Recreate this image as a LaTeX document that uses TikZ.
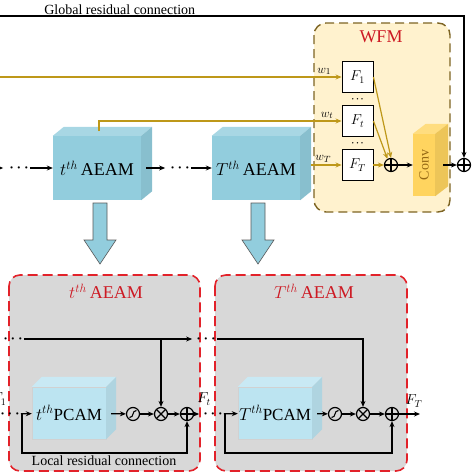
\documentclass[tikz,border=0pt]{standalone}
\usepackage{fontspec}
\setmainfont{Liberation Serif}
\usetikzlibrary{positioning,arrows.meta}

\definecolor{aeamblue}{RGB}{146,205,221}
\definecolor{pcamblue}{RGB}{188,228,241}
\definecolor{panelgray}{RGB}{216,216,216}
\definecolor{panelred}{RGB}{226,34,42}
\definecolor{titlered}{RGB}{205,25,35}
\definecolor{wfmfill}{RGB}{255,242,206}
\definecolor{wfmline}{RGB}{125,100,35}
\definecolor{gold}{RGB}{190,152,25}
\definecolor{convyellow}{RGB}{255,212,95}
\definecolor{convtext}{RGB}{150,105,20}

\begin{document}
\begin{tikzpicture}[x=1pt,y=-1pt,>={Stealth[length=6pt,width=5pt]},
        every node/.style={font=\fontsize{14}{16}\selectfont},
        blackline/.style={line width=1.3pt},
        goldline/.style={draw=gold,line width=1.2pt},
        panel/.style={draw=panelred,fill=panelgray,line width=1.6pt,dash pattern=on 10pt off 5pt,rounded corners=11pt},
        wfm/.style={draw=wfmline,fill=wfmfill,line width=1.4pt,dash pattern=on 9pt off 5pt,rounded corners=12pt},
        paneltitle/.style={text=titlered,font=\fontsize{18}{20}\selectfont},
        aeam/.style={fill=aeamblue,minimum width=88pt,minimum height=64pt,inner sep=0pt,font=\fontsize{18}{20}\selectfont},
        pcam/.style={fill=pcamblue,draw=black!18,minimum width=74pt,minimum height=52pt,inner sep=0pt,font=\fontsize{17}{20}\selectfont},
        conv/.style={fill=convyellow,minimum width=22pt,minimum height=62pt,inner sep=0pt},
        fbox/.style={draw,fill=white,line width=0.9pt,minimum size=31pt,inner sep=0pt},
        sumnode/.style={circle,draw,line width=1.2pt,minimum size=13pt,inner sep=0pt,
            path picture={\draw[line width=1.1pt] (path picture bounding box.north) -- (path picture bounding box.south)
                (path picture bounding box.west) -- (path picture bounding box.east);}},
        mulnode/.style={circle,draw,line width=1.2pt,minimum size=13pt,inner sep=0pt,
            path picture={\draw[line width=1.1pt] ([shift={(-4.6,-4.6)}]path picture bounding box.center) -- ([shift={(4.6,4.6)}]path picture bounding box.center)
                ([shift={(-4.6,4.6)}]path picture bounding box.center) -- ([shift={(4.6,-4.6)}]path picture bounding box.center);}},
        signode/.style={circle,draw,line width=1.2pt,minimum size=13pt,inner sep=0pt,
            path picture={\draw[line width=1.1pt] ([shift={(-3.5,3.5)}]path picture bounding box.center) .. controls +(5,0) and +(-5,0) .. ([shift={(3.5,-3.5)}]path picture bounding box.center);}},
        dotnode/.style={inner sep=1pt,font=\fontsize{14}{14}\selectfont\boldmath},
        wlabel/.style={font=\fontsize{13}{13}\selectfont,inner sep=1.5pt},
        bigarrow/.style={fill=aeamblue,draw=black!65,line width=0.6pt}
    ]
    \useasboundingbox (0,0) rectangle (474,474);

    % panels
    \draw[panel] (9,275) rectangle (200,471);
    \draw[panel] (215,275) rectangle (407,471);
    \draw[wfm] (314,23) rectangle (450,212);
    \node[paneltitle] (titlet) at (106,291) {$t^{th}$\,AEAM};
    \node[paneltitle] (titleT) at (314,291) {$T^{th}$\,AEAM};
    \node[paneltitle] (titlew) at (381,37) {WFM};

    % top row
    \coordinate (in0) at (-8,168);
    \node[dotnode] (d0) at (19,168) {$\cdots$};
    \node[aeam] (aeamt) at (97,168) {$t^{th}$\,AEAM};
    \node[dotnode] (d1) at (180,168) {$\cdots$};
    \node[aeam] (aeamT) at (256,168) {$T^{th}$\,AEAM};
    \node[fbox] (f1) at (357.5,77) {$F_1$};
    \node[dotnode,font=\fontsize{9}{9}\selectfont\boldmath] (fd1) at (357.5,99) {$\cdots$};
    \node[fbox] (ft) at (357.5,121) {$F_t$};
    \node[dotnode,font=\fontsize{9}{9}\selectfont\boldmath] (fd2) at (357.5,143) {$\cdots$};
    \node[fbox] (fT) at (357.5,165) {$F_T$};
    \node[sumnode] (wsum) at (391,165) {};
    \node[conv] (conv) at (424,165) {};
    \node[rotate=90,text=convtext] (convlab) at (conv) {Conv};
    \node[sumnode] (outsum) at (464,165) {};

    % bottom rows
    \coordinate (topin) at (-8,339);
    \node[dotnode] (td0) at (13,339) {$\cdots$};
    \node[dotnode] (td1) at (206,339) {$\cdots$};
    \coordinate (tbr) at (161,339);
    \node[anchor=east] (f1lab) at (10,399) {$F_1$};
    \node[dotnode] (bd0) at (10,414) {$\cdots$};
    \node[pcam] (pcamt) at (69,413) {$t^{th}$PCAM};
    \node[signode] (sigt) at (133,414) {};
    \node[mulnode] (mult) at (161,414) {};
    \node[sumnode] (sumt) at (187,414) {};
    \node (ftlab) at (204,399) {$F_t$};
    \node[dotnode] (bd1) at (213,414) {$\cdots$};
    \node[pcam] (pcamT) at (275,413) {$T^{th}$PCAM};
    \node[signode] (sigT) at (335,414) {};
    \node[mulnode] (mulT) at (363,414) {};
    \node[sumnode] (sumT) at (392,414) {};
    \node (fTlab) at (414,401) {$F_T$};
    \coordinate (Tout) at (420,414);
    \coordinate (tres) at (22,414);
    \coordinate (tres2) at (187,453);
    \coordinate (Tres) at (225,414);
    \coordinate (Tres2) at (392,453);
    \node[anchor=north,inner sep=1pt] (lrc) at (104,455) {Local residual connection};

    % box depth faces
    \foreach \n/\dx/\dy/\c in {aeamt/11/9/aeamblue,aeamT/11/9/aeamblue,pcamt/10/10/pcamblue,pcamT/10/10/pcamblue,conv/13/10/convyellow} {
        \fill[\c!80!white] (\n.north west) -- ++(\dx,-\dy) -- ([shift={(\dx,-\dy)}]\n.north east) -- (\n.north east) -- cycle;
        \fill[\c!93!black] (\n.north east) -- ++(\dx,-\dy) -- ([shift={(\dx,-\dy)}]\n.south east) -- (\n.south east) -- cycle;
    }
    \foreach \x in {100,258}
        \draw[bigarrow] (\x-7,203) -- (\x+7,203) -- (\x+7,240) -- (\x+16,240) -- (\x,264) -- (\x-16,240) -- (\x-7,240) -- cycle;

    % weights
    \coordinate (w1in) at (-5,77);
    \coordinate (wtin) at (99,131);
    \coordinate (wTin) at (311,165);
    \draw[goldline,->] (w1in) -- node[wlabel,pos=0.95,above] {$w_1$} (f1);
    \draw[goldline,->] (wtin) |- node[wlabel,pos=0.97,above] {$w_t$} (ft);
    \draw[goldline,->] (wTin) -- node[wlabel,pos=0.4,above] {$w_T$} (fT);
    \draw[goldline,->] (f1.east) -- (wsum.north);
    \draw[goldline,->] (ft.east) -- (wsum.120);
    \draw[goldline,->] (fT) -- (wsum);

    % main path
    \coordinate (gin) at (-5,16);
    \coordinate (gcorner) at (464,16);
    \draw[blackline,->] (gin) -- node[pos=0.266,above,inner sep=1pt] {Global residual connection} (gcorner) -- (outsum);
    \draw[blackline,->,shorten >=5pt] (in0) -- (d0);
    \draw[blackline,->] (d0) -- (aeamt);
    \draw[blackline,->,shorten <=5pt,shorten >=4pt] (aeamt) -- (d1);
    \draw[blackline,->] (d1) -- (aeamT);
    \draw[blackline,->] (wsum) -- (conv);
    \draw[blackline,->,shorten <=8pt] (conv) -- (outsum);

    \draw[blackline,->,shorten >=3pt] (topin) -- (td0);
    \draw[blackline,->,shorten >=3pt] (td0) -- (td1);
    \draw[blackline,->] (tbr) -- (mult);
    \draw[blackline,->] (td1) -| (mulT);
    \draw[blackline,->] (bd0) -- (pcamt);
    \draw[blackline,->,shorten <=5pt] (pcamt) -- (sigt);
    \draw[blackline,->] (sigt) -- (mult);
    \draw[blackline,->] (mult) -- (sumt);
    \draw[blackline,->] (tres) |- (tres2) -- (sumt);
    \draw[blackline,->,shorten >=3pt] (sumt) -- (bd1);
    \draw[blackline,->] (bd1) -- (pcamT);
    \draw[blackline,->,shorten <=5pt] (pcamT) -- (sigT);
    \draw[blackline,->] (sigT) -- (mulT);
    \draw[blackline,->] (mulT) -- (sumT);
    \draw[blackline,->] (Tres) |- (Tres2) -- (sumT);
    \draw[blackline,->] (sumT) -- (Tout);
\end{tikzpicture}
\end{document}
